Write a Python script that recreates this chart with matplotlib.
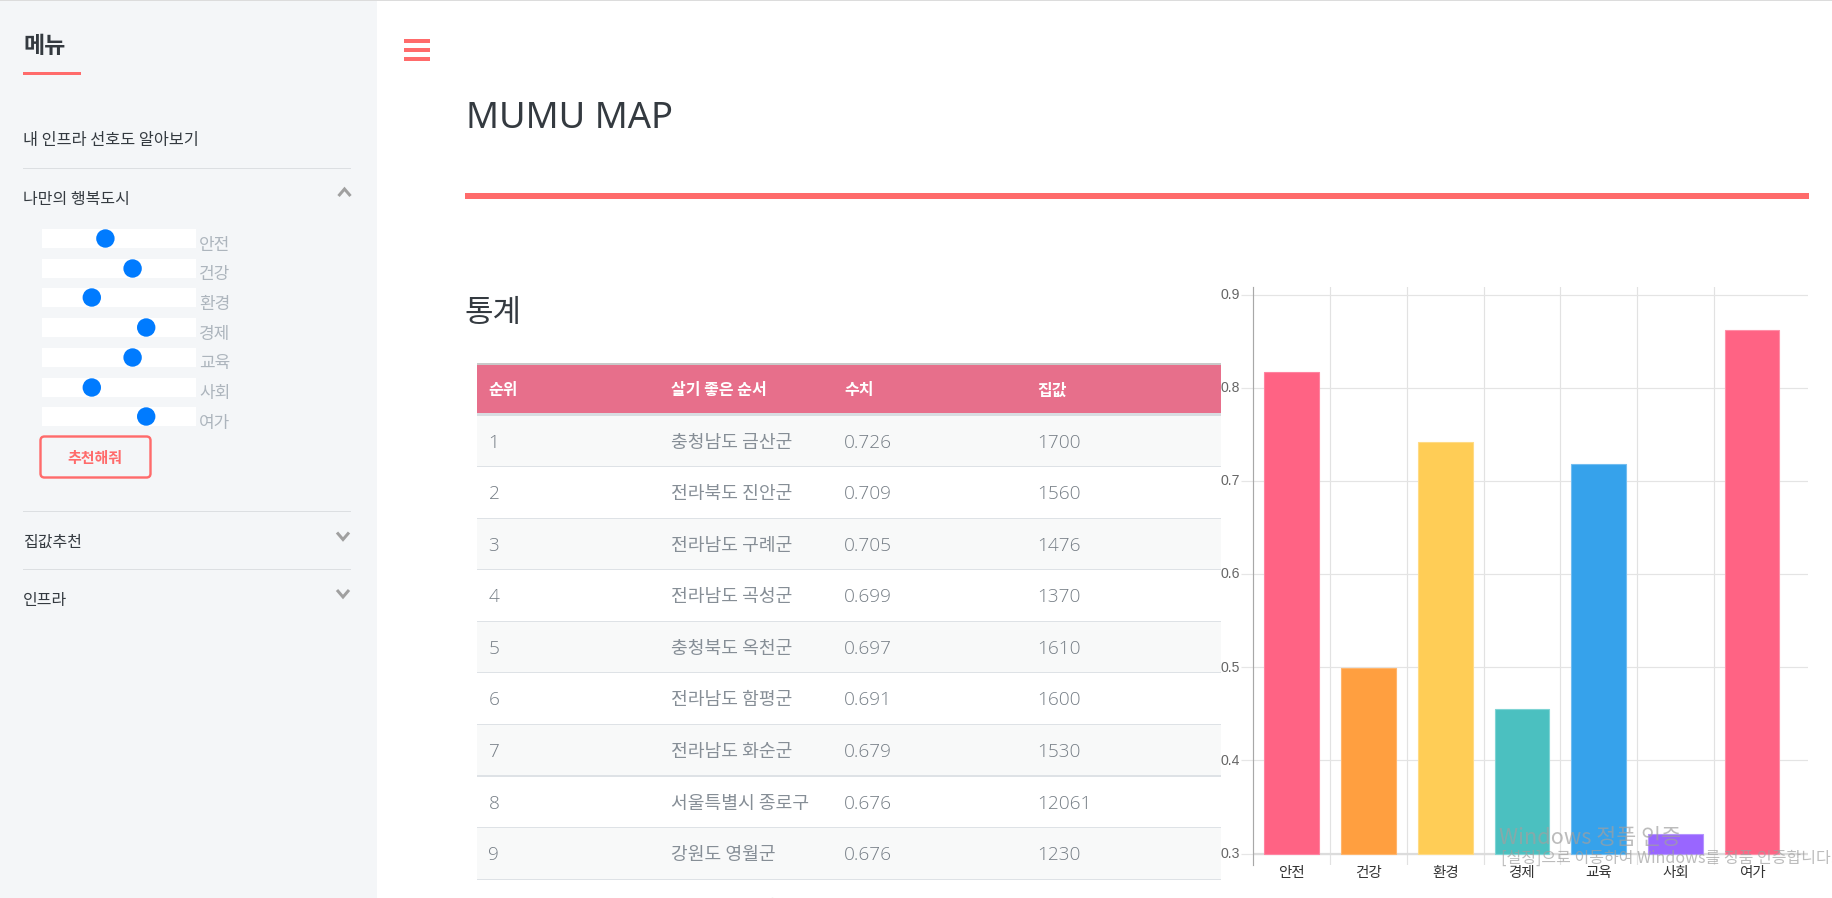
import matplotlib
matplotlib.use("Agg")
import matplotlib.pyplot as plt
from matplotlib.patches import Rectangle, Circle, FancyBboxPatch
from matplotlib.transforms import ScaledTranslation

plt.rcParams['font.family'] = ['Noto Sans CJK KR', 'DejaVu Sans']

# ---- data ----
categories = ['안전', '건강', '환경', '경제', '교육', '사회', '여가']
scores = [0.817, 0.499, 0.7415, 0.455, 0.7187, 0.3206, 0.862]
bar_colors = ['#ff6384', '#ff9f40', '#ffcd56', '#4bc0c0', '#36a2eb', '#9966ff', '#ff6384']
edge_colors = ['#ff83a0', '#ffb56c', '#ffdb85', '#7fd4d4', '#72bdf0', '#b594ff', '#ff8fa8']
y_ticks = [0.3, 0.4, 0.5, 0.6, 0.7, 0.8, 0.9]

slider_values = [40, 60, 30, 70, 60, 30, 70]

table_header = ['순위', '살기 좋은 순서', '수치', '집값']
ranks = ['1', '2', '3', '4', '5', '6', '7', '8', '9']
cities = ['충청남도 금산군', '전라북도 진안군', '전라남도 구례군', '전라남도 곡성군', '충청북도 옥천군',
          '전라남도 함평군', '전라남도 화순군', '서울특별시 종로구', '강원도 영월군']
index_values = ['0.726', '0.709', '0.705', '0.699', '0.697', '0.691', '0.679', '0.676', '0.676']
house_prices = ['1700', '1560', '1476', '1370', '1610', '1600', '1530', '12061', '1230']
clipped_city = '충청남도 서천군'

RED = '#ff6b6b'
DARK = '#343a40'
GREY = '#868e96'
NUM_GREY = '#767e86'
LINE = '#dee2e6'
NUM_FONT = ['Open Sans', 'Noto Sans CJK KR']


def pt(px):
    return px * 0.72


W, H = 1833, 898
fig = plt.figure(figsize=(W / 100, H / 100), dpi=100, facecolor='white')

# page canvas, in pixel units
pg = fig.add_axes([0, 0, 1, 1])
pg.set_xlim(0, W)
pg.set_ylim(H, 0)
pg.axis('off')


def rect(x0, y0, x1, y1, color, z=1):
    pg.add_patch(Rectangle((x0, y0), x1 - x0, y1 - y0, facecolor=color, edgecolor='none', zorder=z))


def txt(x, y, s, size, color=DARK, weight='normal', ha='left', family=None):
    kw = {'family': family} if family else {}
    return pg.text(x, y, s, fontsize=pt(size), color=color, fontweight=weight, ha=ha, va='center',
                   zorder=5, **kw)


def chevron(xc, yc, up):
    d = -3.5 if up else 3.5
    pg.plot([xc - 6, xc, xc + 6], [yc - d, yc + d, yc - d], color='#a0a0a0', lw=pt(3),
            solid_capstyle='butt', solid_joinstyle='miter', zorder=5)


# sidebar
rect(0, 0, 377, H, '#f4f6f8')
rect(0, 0, W, 1.2, '#dcdcdc', 3)
txt(23, 46.5, '메뉴', 23, weight='bold')
rect(23, 72, 81, 75, RED)
txt(23, 141, '내 인프라 선호도 알아보기', 16.3)
rect(23, 168, 351, 169.2, '#dcdfe2')
txt(23, 199.5, '나만의 행복도시', 16)
chevron(344.5, 192.5, True)

slider_tops = [229, 259, 288, 318, 348, 378, 407]
label_ys = [245, 274, 304, 334, 363, 393, 423]
for v, top, ly, name in zip(slider_values, slider_tops, label_ys, categories):
    rect(42, top, 196, top + 19, 'white')
    pg.add_patch(Circle((51 + v / 100 * 136, top + 9.5), 9.2, facecolor='#007bff', edgecolor='none', zorder=3))
    txt(199, ly, name, 17, color='#adb5bd')

pg.add_patch(FancyBboxPatch((40.5, 436.5), 110, 41, boxstyle='round,pad=0,rounding_size=4',
                            facecolor='none', edgecolor=RED, lw=pt(2.4), zorder=3))
txt(94.5, 458, '추천해줘', 15, color=RED, weight='bold', ha='center')

rect(23, 510.5, 351, 511.7, '#dcdfe2')
txt(23, 542.5, '집값추천', 16)
chevron(343, 536, False)
rect(23, 568.5, 351, 569.7, '#dcdfe2')
txt(23, 600.5, '인프라', 16)
chevron(343, 593.5, False)

# hamburger
for y0 in (39, 48, 57):
    rect(404, y0, 430, y0 + 4.3, RED)

# titles
txt(466, 119, 'MUMU MAP', 36.4, color=DARK, family='Noto Sans', weight='medium')
rect(465, 193, 1809, 199, RED)
txt(464.5, 313.5, '통계', 31, weight='medium')

# table
TL, TR = 477, 1221
rect(TL, 364, TR, 413, '#e76f8b')
rect(TL, 363, TR, 364.5, '#c9c9c9', 2)
rect(TL, 413, TR, 416, '#d8dde1', 2)
col_x = [488.5, 671.5, 844, 1037]
for x, h in zip(col_x, table_header):
    txt(x, 390.5, h, 16, color='white', weight='bold')

row_bottoms = [466.3, 518.3, 569.3, 621.3, 672.3, 724.3, 776, 827.3, 879.3]
row_tops = [416] + row_bottoms[:-1]
for i, (top, bot) in enumerate(zip(row_tops, row_bottoms)):
    if i % 2 == 0:
        rect(TL, top, TR, bot, '#f8f9f9')
    rect(TL, bot - 0.6, TR, bot + 0.6 if i != 6 else bot + 1.2, LINE, 2)
    yc = (top + bot) / 2 + (2.0 if i else 1.5)
    txt(col_x[0], yc, ranks[i], 19, color=NUM_GREY, weight='light', family=NUM_FONT)
    txt(col_x[1], yc, cities[i], 18.2, color=GREY, weight='light')
    txt(col_x[2], yc, index_values[i], 19, color=NUM_GREY, weight='light', family=NUM_FONT)
    txt(col_x[3], yc, house_prices[i], 19, color=NUM_GREY, weight='light', family=NUM_FONT)
txt(col_x[1], 907.5, clipped_city, 18.2, color=GREY, weight='light')

# chart: real axes placed over the page
AX_L, AX_R, AX_T, AX_B = 1253.5, 1808.5, 287, 865
ax = fig.add_axes([AX_L / W, 1 - AX_B / H, (AX_R - AX_L) / W, (AX_B - AX_T) / H], facecolor='none')
ax.bar(range(len(categories)), [s - 0.3 for s in scores], bottom=0.3, width=0.715,
       color=bar_colors, edgecolor=edge_colors, linewidth=0.8, zorder=3)
ax.set_xlim(-0.5, 6.736)
ax.set_ylim(0.2877, 0.9083)
ax.set_axisbelow(True)
ax.set_yticks(y_ticks)
ax.set_yticklabels([f'{t:.1f}' for t in y_ticks], fontsize=pt(14), color='#666666', family='Liberation Sans')
ax.set_xticks(range(len(categories)))
ax.set_xticklabels(categories, fontsize=pt(14.5), color='#333333')
ax.set_xticks([i + 0.5 for i in range(6)], minor=True)
ax.tick_params(axis='x', which='major', length=0, pad=1)
ax.tick_params(axis='x', which='minor', length=0)
ax.tick_params(axis='y', length=9, width=0.85, color='#e6e6e6', pad=0.5)
up_shift = ScaledTranslation(0, 1.2 / 100, fig.dpi_scale_trans)
for lab in ax.get_yticklabels():
    lab.set_transform(lab.get_transform() + up_shift)
ax.grid(True, axis='y', color='#e4e4e4', lw=0.85)
ax.grid(True, axis='x', which='minor', color='#e2e2e2', lw=0.85)
ax.axhline(0.3, color='#dcdcdc', lw=1.6, zorder=2.5)
for side in ('top', 'right', 'bottom'):
    ax.spines[side].set_visible(False)
ax.spines['left'].set_color('#a8a8a8')
ax.spines['left'].set_linewidth(0.85)

# activation watermark on top of everything
fig.text(1499 / W, 1 - 838.5 / H, 'Windows 정품 인증', fontsize=pt(21.7), color='#a0a0a0', alpha=0.7,
         ha='left', va='center')
fig.text(1501 / W, 1 - 858 / H, '[설정]으로 이동하여 Windows를 정품 인증합니다.', fontsize=pt(16), color='#a0a0a0',
         alpha=0.7, ha='left', va='center')

fig.savefig('out.png', dpi=100, facecolor='white')
